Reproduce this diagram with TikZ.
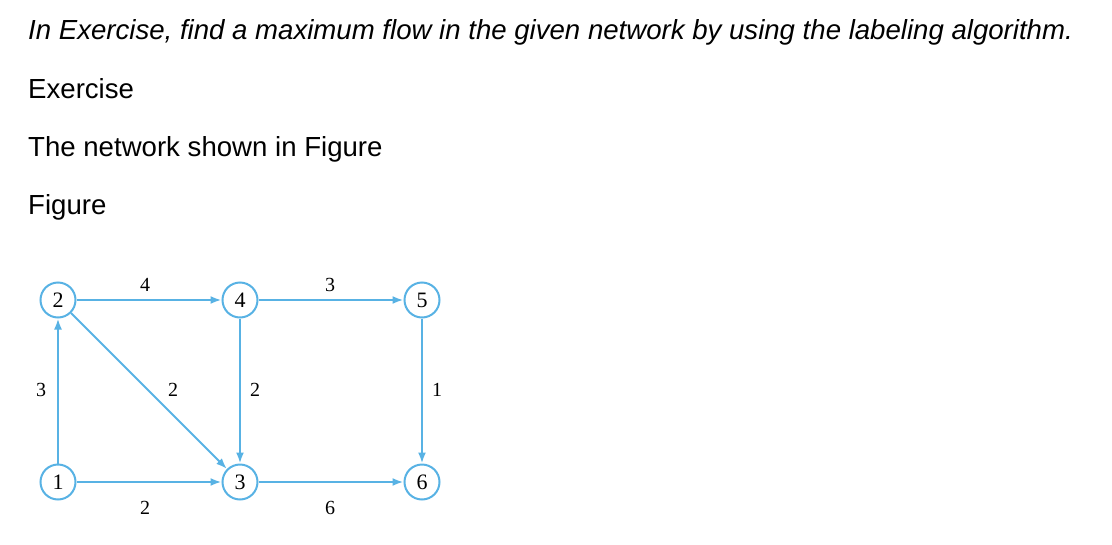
\documentclass[tikz,border=0pt]{standalone}
\usepackage{fontspec}
\setmainfont{Liberation Sans}
\newfontfamily\numfont{Liberation Serif}
\usetikzlibrary{arrows.meta}
\definecolor{edgeblue}{RGB}{88,178,228}
\tikzset{
  vert/.style={circle,draw=edgeblue,line width=2pt,minimum size=35pt,inner sep=0pt,font=\numfont\fontsize{22}{22}\selectfont},
  arc/.style={draw=edgeblue,line width=2pt,-{Latex[length=11pt,width=8pt]}},
  wt/.style={font=\numfont\fontsize{20}{20}\selectfont},
  txt/.style={anchor=base west,inner sep=0pt,font=\fontsize{27.6}{27.6}\selectfont}
}
\begin{document}
\begin{tikzpicture}[x=1pt,y=-1pt]
\useasboundingbox (0,0) rectangle (1112,544);
\node[txt] (t1) at (28,39) {\itshape In Exercise, find a maximum flow in the given network by using the labeling algorithm.};
\node[txt] (t2) at (28,98) {Exercise};
\node[txt] (t3) at (28,156) {The network shown in Figure};
\node[txt] (t4) at (28,214) {Figure};
\node[vert] (n2) at (58,300) {2};
\node[vert] (n4) at (240,300) {4};
\node[vert] (n5) at (422,300) {5};
\node[vert] (n1) at (58,482) {1};
\node[vert] (n3) at (240,482) {3};
\node[vert] (n6) at (422,482) {6};
\draw[arc] (n1) -- (n2);
\draw[arc] (n2) -- (n4);
\draw[arc] (n4) -- (n5);
\draw[arc] (n2) -- (n3);
\draw[arc] (n4) -- (n3);
\draw[arc] (n5) -- (n6);
\draw[arc] (n1) -- (n3);
\draw[arc] (n3) -- (n6);
\node[wt] (w1) at (145,285) {4};
\node[wt] (w2) at (330,285) {3};
\node[wt] (w3) at (41,390) {3};
\node[wt] (w4) at (173,390) {2};
\node[wt] (w5) at (255,390) {2};
\node[wt] (w6) at (437,390) {1};
\node[wt] (w7) at (145,508) {2};
\node[wt] (w8) at (330,508) {6};
\end{tikzpicture}
\end{document}
